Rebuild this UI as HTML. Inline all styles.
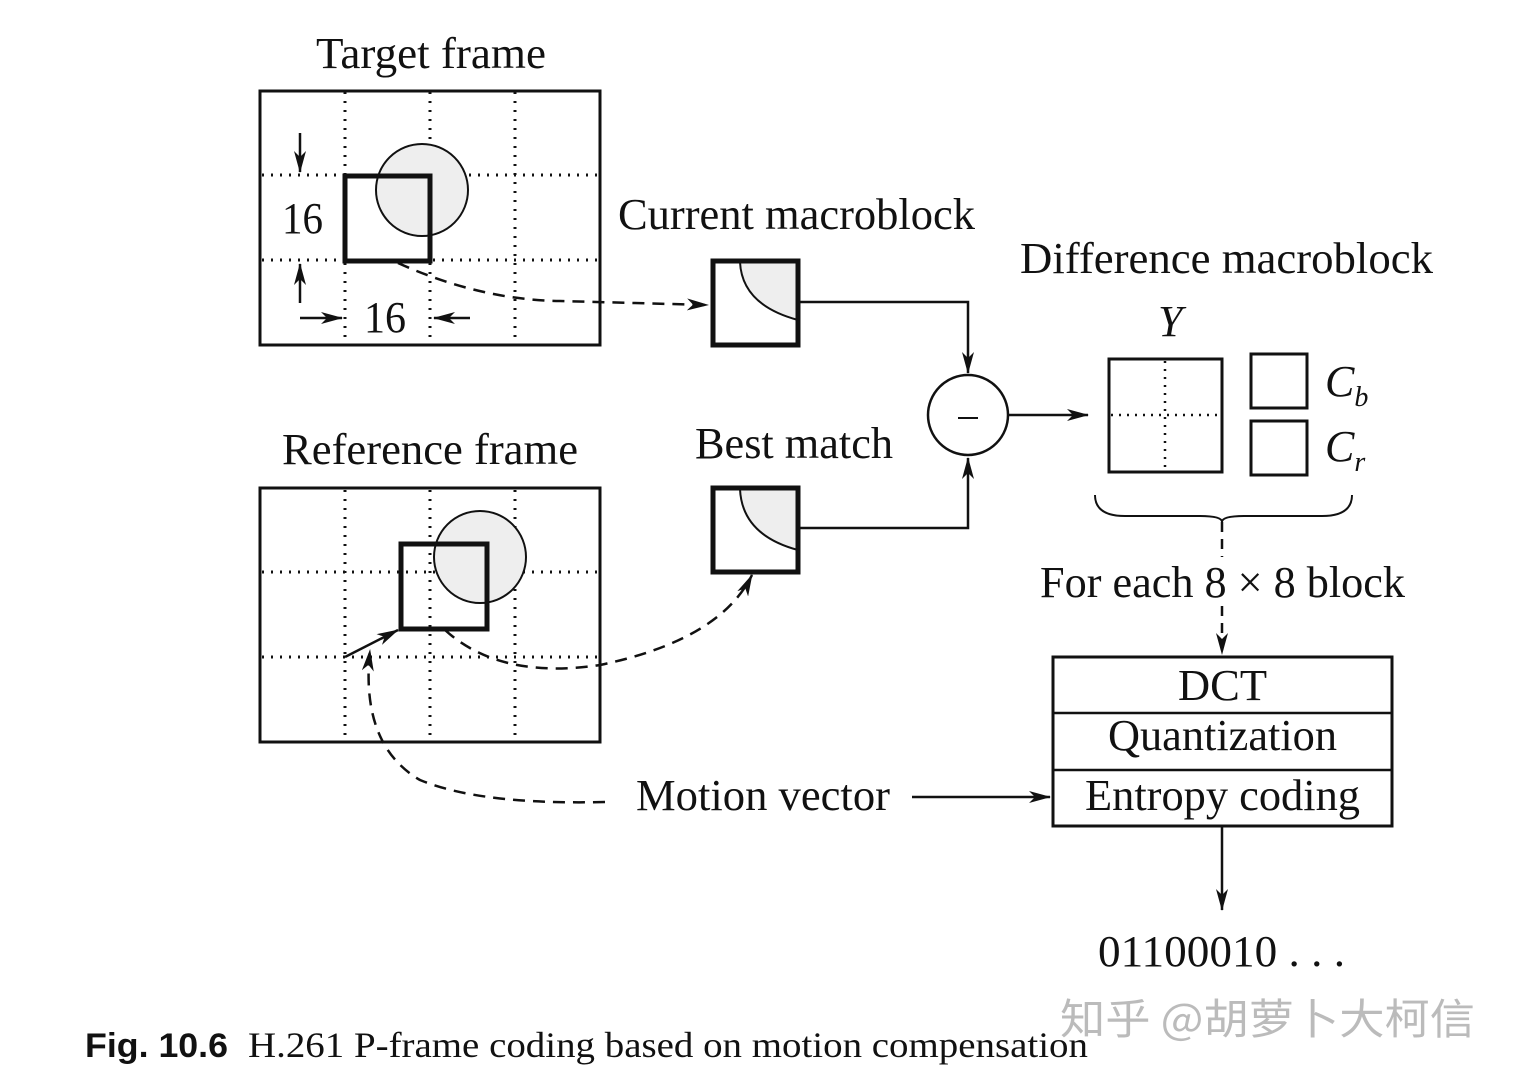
<!DOCTYPE html>
<html><head><meta charset="utf-8"><style>
html,body{margin:0;padding:0;background:#fff;}
svg{display:block}
text{font-family:"Liberation Serif",serif;fill:#111}
</style></head><body>
<svg width="1513" height="1081" viewBox="0 0 1513 1081" xmlns="http://www.w3.org/2000/svg">
<defs>
<marker id="ah" viewBox="0 0 22 12" refX="21" refY="6" markerWidth="22" markerHeight="12" markerUnits="userSpaceOnUse" orient="auto">
<path d="M0,0 L22,6 L0,12 L6,6 Z" fill="#111"/></marker>
</defs>
<g stroke="#111" fill="none">
<g stroke-width="3" stroke-dasharray="2,7">
<line x1="345" y1="92" x2="345" y2="343"/><line x1="430" y1="92" x2="430" y2="343"/><line x1="515" y1="92" x2="515" y2="343"/>
<line x1="262" y1="175" x2="598" y2="175"/><line x1="262" y1="260" x2="598" y2="260"/>
</g>
<circle cx="422" cy="190" r="46" fill="#eee" stroke-width="2"/>
<rect x="260" y="91" width="340" height="254" stroke-width="3"/>
<rect x="345" y="176" width="85" height="85" stroke-width="5"/>
<line x1="300" y1="133" x2="300" y2="172" stroke-width="2.5" marker-end="url(#ah)"/>
<line x1="300" y1="303" x2="300" y2="264" stroke-width="2.5" marker-end="url(#ah)"/>
<line x1="300" y1="318" x2="342" y2="318" stroke-width="2.5" marker-end="url(#ah)"/>
<line x1="470" y1="318" x2="434" y2="318" stroke-width="2.5" marker-end="url(#ah)"/>
<path d="M398,263 Q480,300 560,301 L708,305" stroke-width="2.5" stroke-dasharray="12,8" marker-end="url(#ah)"/>
<path d="M740,262 Q742,305 798,320 L798,262 Z" fill="#eee" stroke-width="2"/>
<rect x="713" y="261" width="85" height="84" stroke-width="5"/>
<polyline points="800,302 968,302 968,373" stroke-width="2.5" marker-end="url(#ah)"/>
<circle cx="968" cy="415" r="40" stroke-width="2.5"/>
<line x1="958" y1="418" x2="978" y2="418" stroke-width="2"/>
<line x1="1008" y1="415" x2="1088" y2="415" stroke-width="2.5" marker-end="url(#ah)"/>
<path d="M740,489 Q742,535 798,550 L798,489 Z" fill="#eee" stroke-width="2"/>
<rect x="713" y="488" width="85" height="84" stroke-width="5"/>
<polyline points="800,528 968,528 968,458" stroke-width="2.5" marker-end="url(#ah)"/>
<g stroke-width="3" stroke-dasharray="2,7">
<line x1="345" y1="490" x2="345" y2="740"/><line x1="430" y1="490" x2="430" y2="740"/><line x1="515" y1="490" x2="515" y2="740"/>
<line x1="262" y1="572" x2="598" y2="572"/><line x1="262" y1="657" x2="598" y2="657"/>
</g>
<circle cx="480" cy="557" r="46" fill="#eee" stroke-width="2"/>
<rect x="260" y="488" width="340" height="254" stroke-width="3"/>
<rect x="401" y="544" width="86" height="85" stroke-width="5"/>
<line x1="345" y1="657" x2="398" y2="630" stroke-width="2.5" marker-end="url(#ah)"/>
<path d="M445,630 Q500,680 600,665 Q720,640 752,575" stroke-width="2.5" stroke-dasharray="12,8" marker-end="url(#ah)"/>
<path d="M605,802 Q480,805 420,780 Q360,745 370,650" stroke-width="2.5" stroke-dasharray="12,8" marker-end="url(#ah)"/>
<line x1="912" y1="797" x2="1050" y2="797" stroke-width="2.5" marker-end="url(#ah)"/>
<rect x="1109" y="359" width="113" height="113" stroke-width="3"/>
<g stroke-width="2.5" stroke-dasharray="2,6"><line x1="1165" y1="361" x2="1165" y2="470"/><line x1="1111" y1="415" x2="1220" y2="415"/></g>
<rect x="1251" y="354" width="56" height="54" stroke-width="3"/>
<rect x="1251" y="421" width="56" height="54" stroke-width="3"/>
<path d="M1095,495 Q1095,516 1125,516 L1200,516 Q1222,516 1222,522 Q1222,516 1244,516 L1322,516 Q1352,516 1352,495" stroke-width="2"/>
<line x1="1222" y1="522" x2="1222" y2="557" stroke-width="2.5" stroke-dasharray="10,7"/>
<line x1="1222" y1="606" x2="1222" y2="654" stroke-width="2.5" stroke-dasharray="10,7" marker-end="url(#ah)"/>
<rect x="1053" y="657" width="339" height="169" stroke-width="3"/>
<line x1="1053" y1="713" x2="1392" y2="713" stroke-width="2.5"/>
<line x1="1053" y1="770" x2="1392" y2="770" stroke-width="2.5"/>
<line x1="1222" y1="826" x2="1222" y2="910" stroke-width="2.5" marker-end="url(#ah)"/>
</g>
<g font-size="44" lengthAdjust="spacingAndGlyphs">
<text x="316" y="68" textLength="230" lengthAdjust="spacingAndGlyphs">Target frame</text>
<text x="282" y="233" textLength="41" lengthAdjust="spacingAndGlyphs">16</text>
<text x="364" y="332" textLength="42" lengthAdjust="spacingAndGlyphs">16</text>
<text x="618" y="229" textLength="357" lengthAdjust="spacingAndGlyphs">Current macroblock</text>
<text x="282" y="464" textLength="296" lengthAdjust="spacingAndGlyphs">Reference frame</text>
<text x="695" y="458" textLength="198" lengthAdjust="spacingAndGlyphs">Best match</text>
<text x="1020" y="273" textLength="413" lengthAdjust="spacingAndGlyphs">Difference macroblock</text>
<text x="1158" y="336" font-style="italic">Y</text>
<text x="1325" y="396" font-style="italic">C<tspan font-size="28" dy="10">b</tspan></text>
<text x="1325" y="461" font-style="italic">C<tspan font-size="28" dy="10">r</tspan></text>
<text x="1040" y="597" textLength="365" lengthAdjust="spacingAndGlyphs">For each 8 × 8 block</text>
<text x="1178" y="700" textLength="89" lengthAdjust="spacingAndGlyphs">DCT</text>
<text x="1108" y="750" textLength="229" lengthAdjust="spacingAndGlyphs">Quantization</text>
<text x="1085" y="810" textLength="275" lengthAdjust="spacingAndGlyphs">Entropy coding</text>
<text x="636" y="810" textLength="254" lengthAdjust="spacingAndGlyphs">Motion vector</text>
<text x="1098" y="966" textLength="247" lengthAdjust="spacingAndGlyphs">01100010 . . .</text>
</g>
<text x="1060" y="1034" font-size="42" textLength="415" lengthAdjust="spacingAndGlyphs" style="font-family:'Noto Sans CJK SC',sans-serif;fill:#bbb">知乎 @胡萝卜大柯信</text>
<text x="85" y="1057" font-size="34" textLength="143" lengthAdjust="spacingAndGlyphs" style="font-family:'Liberation Sans',sans-serif;font-weight:bold">Fig. 10.6</text>
<text x="248" y="1057" font-size="36" textLength="840" lengthAdjust="spacingAndGlyphs">H.261 P-frame coding based on motion compensation</text>
</svg>
</body></html>
